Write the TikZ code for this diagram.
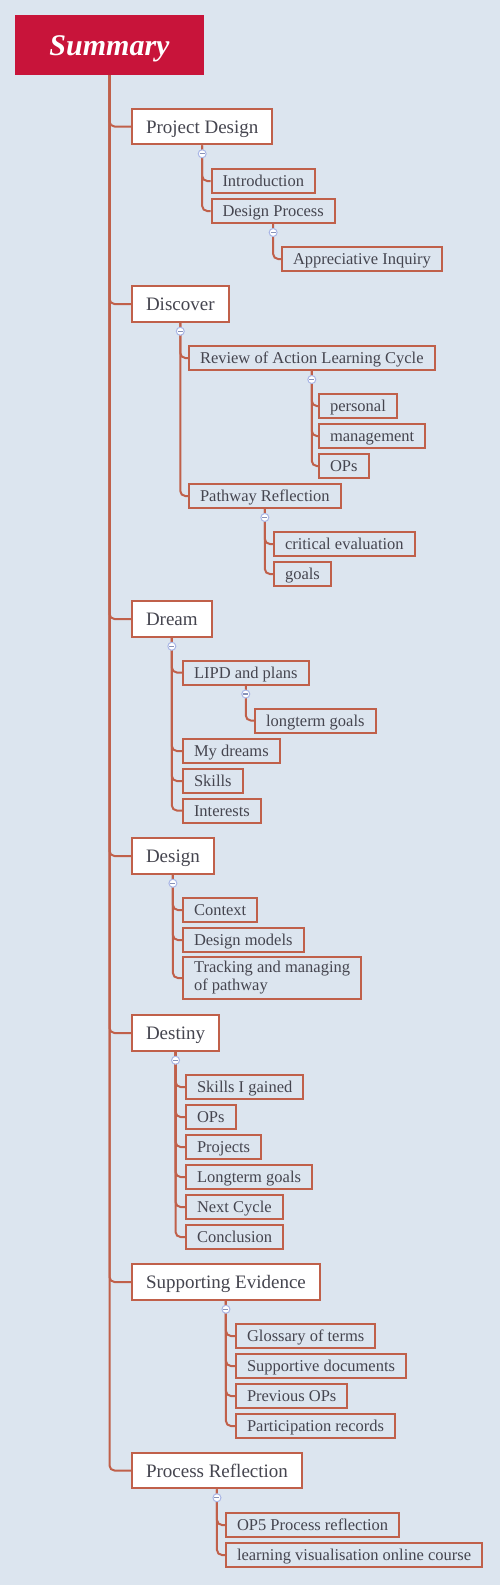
\documentclass[tikz,border=0pt]{standalone}
\usepackage{fontspec}
\setmainfont{Liberation Serif}
\usetikzlibrary{positioning}
\definecolor{paper}{HTML}{DCE5EF}
\definecolor{branch}{HTML}{C0604A}
\definecolor{crimson}{HTML}{C8143A}
\definecolor{ink}{HTML}{45454F}
\definecolor{foldblue}{HTML}{A9B6E6}
\tikzset{
root/.style={fill=crimson, text=white, minimum width=189pt, minimum height=60pt, text height=20pt, text depth=0pt, font=\fontsize{30}{32}\selectfont\bfseries\itshape}, % the central topic
topic/.style={draw=branch, fill=white, line width=2pt, anchor=west, text=ink, inner xsep=14pt, inner ysep=0pt, minimum height=35.5pt, text height=13.5pt, text depth=0pt, font=\fontsize{19}{21}\selectfont}, % main branches
box/.style={draw=branch, line width=2pt, anchor=west, text=ink, inner xsep=11pt, font=\fontsize{16.5}{18}\selectfont},
leaf/.style={box, inner ysep=0pt, minimum height=24pt, text height=11.5pt, text depth=0pt}, % sub topics
link/.style={draw=branch, line width=2pt, rounded corners=5pt},
fold/.style={circle, draw=foldblue, fill=white, line width=1pt, minimum size=8pt, inner sep=0pt, node distance=4pt,
  path picture={\draw[foldblue!80!black, line width=1.2pt] ([xshift=-2.5pt]path picture bounding box.center) -- ([xshift=2.5pt]path picture bounding box.center);}}, % collapse button
}
\begin{document}
\begin{tikzpicture}[x=1pt, y=-1pt]
\useasboundingbox[fill=paper] (0,0) rectangle (500,1585);
\node[root] (root) at (109.5,45) {Summary};
% main branches
\node[topic] (pd) at (131,126.5) {Project Design};
\node[topic] (disc) at (131,304) {Discover};
\node[topic] (dream) at (131,619) {Dream};
\node[topic] (design) at (131,856) {Design};
\node[topic] (destiny) at (131,1033) {Destiny};
\node[topic] (supp) at (131,1282) {Supporting Evidence};
\node[topic] (procr) at (131,1470.5) {Process Reflection};
% project design
\node[leaf] (intro) at (210.5,181) {Introduction};
\node[leaf] (dproc) at (210.5,211) {Design Process};
\node[leaf] (appr) at (281,259) {Appreciative Inquiry};
% discover
\node[leaf] (review) at (188,358) {Review of Action Learning Cycle};
\node[leaf] (personal) at (318,406) {personal};
\node[leaf] (manage) at (318,436) {management};
\node[leaf] (ops) at (318,466) {OPs};
\node[leaf] (pathway) at (188,496) {Pathway Reflection};
\node[leaf] (crit) at (273,544) {critical evaluation};
\node[leaf] (goals) at (273,574) {goals};
% dream
\node[leaf] (lipd) at (182,672.5) {LIPD and plans};
\node[leaf] (longterm) at (254,720.5) {longterm goals};
\node[leaf] (mydreams) at (182,751) {My dreams};
\node[leaf] (skills) at (182,781) {Skills};
\node[leaf] (interests) at (182,810.5) {Interests};
% design
\node[leaf] (context) at (182,910) {Context};
\node[leaf] (models) at (182,940) {Design models};
\node[box, align=left, inner ysep=4.6pt] (tracking) at (182,978) {Tracking and managing\\of pathway};
% destiny
\node[leaf] (gained) at (185,1087) {Skills I gained};
\node[leaf] (destops) at (185,1117) {OPs};
\node[leaf] (projects) at (185,1147) {Projects};
\node[leaf] (ltgoals) at (185,1177) {Longterm goals};
\node[leaf] (nextcyc) at (185,1207) {Next Cycle};
\node[leaf] (concl) at (185,1237) {Conclusion};
% supporting evidence
\node[leaf] (gloss) at (235,1336) {Glossary of terms};
\node[leaf] (suppdocs) at (235,1366) {Supportive documents};
\node[leaf] (prevops) at (235,1396) {Previous OPs};
\node[leaf] (records) at (235,1426) {Participation records};
% process reflection
\node[leaf] (op5) at (225,1525) {OP5 Process reflection};
\node[leaf] (course) at (225,1555) {learning visualisation online course};
% connectors
\foreach \a/\b in {root/pd, root/disc, root/dream, root/design, root/destiny, root/supp, root/procr,
  pd/intro, pd/dproc, dproc/appr,
  disc/review, disc/pathway, review/personal, review/manage, review/ops, pathway/crit, pathway/goals,
  dream/lipd, dream/mydreams, dream/skills, dream/interests, lipd/longterm,
  design/context, design/models, design/tracking,
  destiny/gained, destiny/destops, destiny/projects, destiny/ltgoals, destiny/nextcyc, destiny/concl,
  supp/gloss, supp/suppdocs, supp/prevops, supp/records,
  procr/op5, procr/course}
  \draw[link] (\a.south) |- (\b.west);
% collapse buttons
\foreach \p in {pd, dproc, disc, review, pathway, dream, lipd, design, destiny, supp, procr}
  \node[fold, below=of \p] {};
\end{tikzpicture}
\end{document}
